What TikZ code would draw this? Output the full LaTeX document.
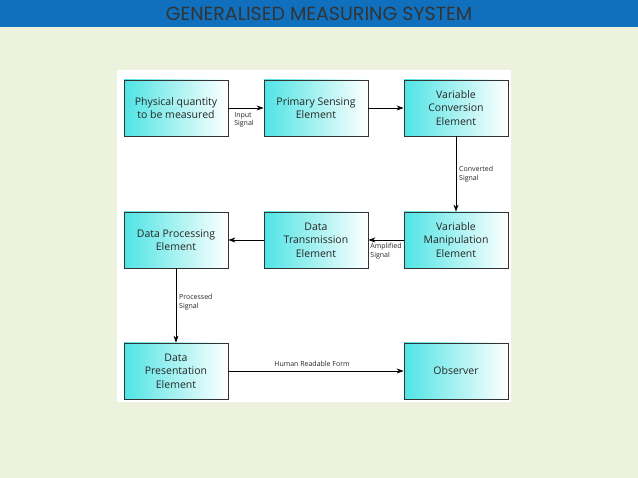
\documentclass[tikz,border=0pt]{standalone}
\usepackage{fontspec}
\setmainfont{Open Sans}
\newfontfamily\titlefont{Poppins}
\usepackage{tikz}
\usetikzlibrary{calc, arrows.meta}
\definecolor{slidebg}{RGB}{236,242,222}
\definecolor{barblue}{RGB}{16,112,190}
\definecolor{boxcyan}{RGB}{80,228,228}
\tikzset{
    block/.style = {draw = black!80, line width = 0.8pt, minimum width = 104pt, minimum height = 56pt,
        align = center, font = \fontsize{10.5}{13.5}\selectfont, text = black!85, left color = boxcyan, right color = white},
    flow/.style = {black, line width = 0.7pt, -{Stealth[length = 7pt, width = 5pt]}},
    sig/.style = {align = left, font = \fontsize{7}{8.5}\selectfont, text = black!85, inner sep = 1pt}
}

\begin{document}
\begin{tikzpicture}[x = 1pt, y = -1pt]
            \useasboundingbox (0, 0) rectangle (638, 478);
            \fill[slidebg] (0, 0) rectangle (638, 478);
            \fill[barblue] (0, 0) rectangle (638, 27);
            \node[font = \titlefont\fontsize{19}{22}\selectfont, text = black!80] (title) at (319, 14) {GENERALISED MEASURING SYSTEM};
            \fill[white] (117, 70) rectangle (511, 402);
            
            \node[block] (quantity) at (176, 108) {Physical quantity\\to be measured};
            \node[block] (sensing) at (316, 108) {Primary Sensing\\Element};
            \node[block] (conversion) at (456, 108) {Variable\\Conversion\\Element};
            \node[block] (processing) at (176, 240) {Data Processing\\Element};
            \node[block] (transmission) at (316, 240) {Data\\Transmission\\Element};
            \node[block] (manipulation) at (456, 240) {Variable\\Manipulation\\Element};
            \node[block] (presentation) at (176, 371) {Data\\Presentation\\Element};
            \node[block] (observer) at (456, 371) {Observer};
            
            \draw[flow] (quantity) -- (sensing);
            \node[sig] (input) at (244, 120) {Input\\Signal};
            \draw[flow] (sensing) -- (conversion);
            \draw[flow] (conversion) -- (manipulation);
            \node[sig, anchor = west] (converted) at (458, 174) {Converted\\Signal};
            \draw[flow] (manipulation) -- (transmission);
            \node[sig] (amplified) at (386, 251) {Amplified\\Signal};
            \draw[flow] (transmission) -- (processing);
            \draw[flow] (processing) -- (presentation);
            \node[sig, anchor = west] (processed) at (178, 302) {Processed\\Signal};
            \draw[flow] (presentation) -- (observer);
            \node[sig] (readable) at (312, 364) {Human Readable Form};
        \end{tikzpicture}
\end{document}
